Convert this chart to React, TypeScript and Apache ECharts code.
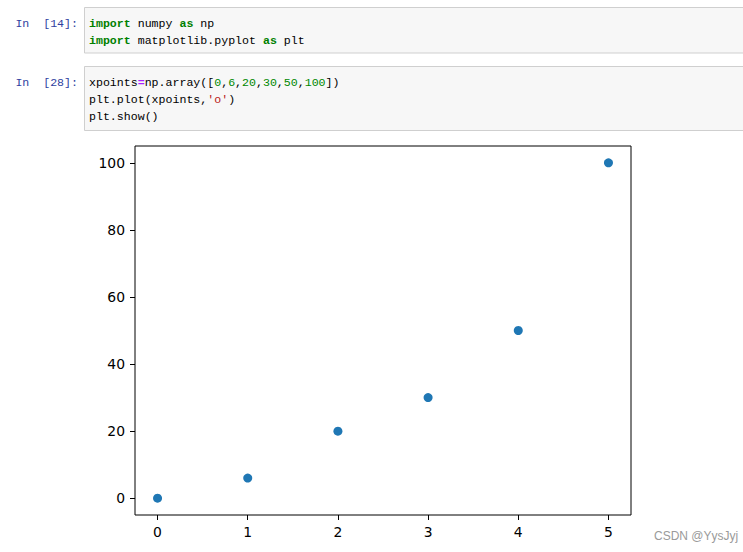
import React, { useEffect, useRef } from "react";
import * as echarts from "echarts";

const xValues = [0, 1, 2, 3, 4, 5];
const yValues = [0, 6, 20, 30, 50, 100];
const xTicks = [0, 1, 2, 3, 4, 5];
const yTicks = [0, 20, 40, 60, 80, 100];

const MONO = "Liberation Mono";
const FS = 11.6;

const richStyles = {
  t: { fontFamily: MONO, fontSize: FS, fill: "#000" },
  kw: { fontFamily: MONO, fontSize: FS, fill: "#008000", fontWeight: "bold" },
  num: { fontFamily: MONO, fontSize: FS, fill: "#008800" },
  op: { fontFamily: MONO, fontSize: FS, fill: "#aa22ff", fontWeight: "bold" },
  str: { fontFamily: MONO, fontSize: FS, fill: "#ba2121" },
};

function codeLine(y: number, text: string) {
  return {
    type: "text",
    x: 89,
    y,
    style: {
      text,
      rich: richStyles,
      verticalAlign: "middle",
      fontFamily: MONO,
      fontSize: FS,
    },
  };
}

function prompt(y: number, text: string) {
  return {
    type: "text",
    x: 78,
    y,
    style: {
      text,
      fill: "#303f9f",
      fontFamily: MONO,
      fontSize: FS,
      align: "right",
      verticalAlign: "middle",
    },
  };
}

export default function App() {
  const ref = useRef<HTMLDivElement>(null);
  useEffect(() => {
    if (!ref.current) return;
    const chart = echarts.init(ref.current, null, { renderer: "svg" });
    chart.setOption({
      animation: false,
      backgroundColor: "#fff",
      graphic: [
        {
          type: "rect",
          shape: { x: 84.5, y: 7.5, width: 700, height: 45.5 },
          style: { fill: "#f7f7f7", stroke: "#cfcfcf", lineWidth: 1 },
        },
        {
          type: "rect",
          shape: { x: 84.5, y: 66.5, width: 700, height: 64 },
          style: { fill: "#f7f7f7", stroke: "#cfcfcf", lineWidth: 1 },
        },
        prompt(23, "In  [14]:"),
        prompt(82, "In  [28]:"),
        codeLine(23, "{kw|import}{t| numpy }{kw|as}{t| np}"),
        codeLine(40, "{kw|import}{t| matplotlib.pyplot }{kw|as}{t| plt}"),
        codeLine(
          82,
          "{t|xpoints}{op|=}{t|np.array([}{num|0}{t|,}{num|6}{t|,}{num|20}{t|,}{num|30}{t|,}{num|50}{t|,}{num|100}{t|])}"
        ),
        codeLine(99, "{t|plt.plot(xpoints,}{str|'o'}{t|)}"),
        codeLine(116, "{t|plt.show()}"),
        {
          type: "text",
          x: 654,
          y: 536,
          style: {
            text: "CSDN @YysJyj",
            fill: "#9a9a9a",
            fontFamily: "Liberation Sans",
            fontSize: 12,
            verticalAlign: "middle",
          },
        },
      ],
      grid: {
        left: 135,
        top: 146,
        width: 496,
        height: 369,
        show: true,
        borderColor: "#000",
        borderWidth: 1,
        backgroundColor: "#fff",
        containLabel: false,
      },
      xAxis: {
        type: "value",
        min: -0.25,
        max: 5.25,
        axisLine: { show: false, onZero: false },
        splitLine: { show: false },
        axisTick: {
          show: true,
          customValues: xTicks,
          length: 5,
          lineStyle: { color: "#000", width: 1 },
        },
        axisLabel: {
          customValues: xTicks,
          color: "#000",
          fontSize: 13.9,
          fontFamily: "DejaVu Sans",
          margin: 10,
        },
      },
      yAxis: {
        type: "value",
        min: -5,
        max: 105,
        axisLine: { show: false, onZero: false },
        splitLine: { show: false },
        axisTick: {
          show: true,
          customValues: yTicks,
          length: 5,
          lineStyle: { color: "#000", width: 1 },
        },
        axisLabel: {
          customValues: yTicks,
          color: "#000",
          fontSize: 13.9,
          fontFamily: "DejaVu Sans",
          margin: 10,
        },
      },
      series: [
        {
          type: "scatter",
          data: xValues.map((x, i) => [x, yValues[i]]),
          symbol: "circle",
          symbolSize: 9,
          itemStyle: { color: "#1f77b4", opacity: 1 },
        },
      ],
    });
    return () => chart.dispose();
  }, []);
  return (
    <div
      ref={ref}
      style={{ position: "absolute", left: 0, top: 0, width: 743, height: 552 }}
    />
  );
}
